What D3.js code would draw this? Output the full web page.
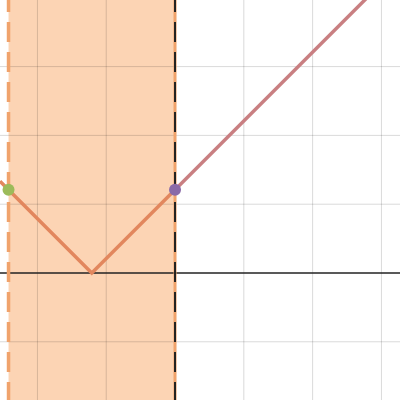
<!DOCTYPE html>
<html><head><meta charset="utf-8">
<script src="https://cdn.jsdelivr.net/npm/d3@7"></script>
<style>body{margin:0;background:#fff}</style></head>
<body><svg id="c" width="400" height="400"></svg>
<script>
const gridX = [-2, -1, 0, 1, 2, 3];
const gridY = [-1, 1, 2, 3];
const vLineX = [-2.544, -1.21, 0];
const vLineY = [1.334, 0, 1.21];
const rayX = [0, 2.8];
const rayY = [1.21, 4.01];
const region = [-2.42, 0];
const pointsX = [-2.42, 0];
const pointsY = [1.21, 1.21];
const pointColors = ["#9cbb5a", "#8a6aa8"];

const svg = d3.select("#c");
const x = d3.scaleLinear().domain([-2.544, 3.27]).range([0, 400]);
const y = d3.scaleLinear().domain([-1.846, 3.968]).range([400, 0]);

svg.append("rect").attr("x", x(region[0])).attr("y", 0)
  .attr("width", x(region[1]) - x(region[0])).attr("height", 400).attr("fill", "#fcd4b4");

svg.selectAll(".gx").data(gridX).join("line").attr("x1", d => x(d)).attr("x2", d => x(d))
  .attr("y1", 0).attr("y2", 400).attr("stroke", "#000").attr("stroke-opacity", 0.15);
svg.selectAll(".gy").data(gridY).join("line").attr("y1", d => y(d)).attr("y2", d => y(d))
  .attr("x1", 0).attr("x2", 400).attr("stroke", "#000").attr("stroke-opacity", 0.15);
svg.append("line").attr("x1", 0).attr("x2", 400).attr("y1", y(0)).attr("y2", y(0))
  .attr("stroke", "#222").attr("stroke-width", 1.5);

const line = d3.line().x(d => x(d[0])).y(d => y(d[1]));
svg.append("path").attr("d", line(d3.zip(vLineX, vLineY))).attr("fill", "none")
  .attr("stroke", "#e2875e").attr("stroke-width", 3.5);
svg.append("path").attr("d", line(d3.zip(rayX, rayY))).attr("fill", "none")
  .attr("stroke", "#c97f82").attr("stroke-width", 3.5);

// boundary dashes
svg.append("line").attr("x1", x(region[0])).attr("x2", x(region[0])).attr("y1", 0).attr("y2", 400)
  .attr("stroke", "#f0a36c").attr("stroke-width", 3.5).attr("stroke-dasharray", "20,10").attr("stroke-dashoffset", 8);
svg.append("line").attr("x1", x(region[1])).attr("x2", x(region[1])).attr("y1", 0).attr("y2", 400)
  .attr("stroke", "#f0a36c").attr("stroke-width", 3);
svg.append("line").attr("x1", x(region[1])).attr("x2", x(region[1])).attr("y1", 0).attr("y2", 400)
  .attr("stroke", "#222").attr("stroke-width", 2).attr("stroke-dasharray", "20,10").attr("stroke-dashoffset", 8);

svg.selectAll(".pt").data(d3.zip(pointsX, pointsY, pointColors)).join("circle")
  .attr("cx", d => x(d[0])).attr("cy", d => y(d[1])).attr("r", 6).attr("fill", d => d[2]);
</script></body></html>
